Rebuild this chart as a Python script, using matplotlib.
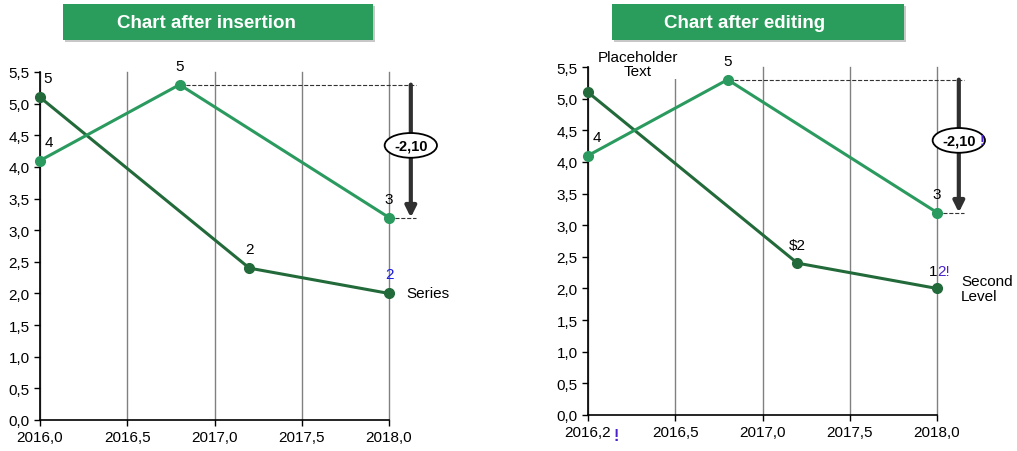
import matplotlib
matplotlib.use("Agg")
import matplotlib.pyplot as plt
from matplotlib.patches import Rectangle
from matplotlib.ticker import FuncFormatter, MultipleLocator

plt.rcParams['font.family'] = ['Liberation Sans', 'DejaVu Sans']
plt.rcParams['font.size'] = 10

# DATA
years_light = [2016.0, 2016.8, 2018.0]
vals_light = [4.1, 5.3, 3.2]
years_dark = [2016.0, 2017.2, 2018.0]
vals_dark = [5.1, 2.4, 2.0]

labels_light = ["4", "5", "3"]
labels_dark_ins = ["5", "2", "2"]
labels_dark_edit = ["Placeholder\nText", "$2", "12!"]

x_ticks = [2016.0, 2016.5, 2017.0, 2017.5, 2018.0]
x_ticklabels_edit = ["2016,2", "2016,5", "2017,0", "2017,5", "2018,0"]

diff_label = "-2,10"
series_name_ins = "Series"
series_name_edit = "Second\nLevel"
titles = ["Chart after insertion", "Chart after editing"]

# STYLE
W, H = 1017, 452
C_LIGHT = '#2a9a5e'
C_DARK = '#236a3a'
C_TITLE = '#2a9d5c'
C_PURPLE = '#4a22c8'
C_BLUE = '#1a1ae0'
ARROW_X = 2018.125
ELLIPSE_Y = 4.34


def comma(v, pos=None):
    return f"{v:.1f}".replace('.', ',')


def label(ax, x, y, s, dx, dy, **kw):
    kw.setdefault('ha', 'center')
    kw.setdefault('va', 'center')
    return ax.annotate(s, (x, y), xytext=(dx, dy), textcoords='offset pixels',
                       annotation_clip=False, zorder=6, **kw)


def base_panel(ax):
    ax.plot(years_dark, vals_dark, color=C_DARK, lw=2.2, marker='o', ms=7,
            zorder=4, clip_on=False)
    ax.plot(years_light, vals_light, color=C_LIGHT, lw=2.2, marker='o', ms=7,
            zorder=4, clip_on=False)

    ax.set_xticks(x_ticks)
    ax.yaxis.set_major_locator(MultipleLocator(0.5))
    ax.yaxis.set_major_formatter(FuncFormatter(comma))
    ax.xaxis.set_major_formatter(FuncFormatter(comma))
    ax.set_xlim(2016, 2018)
    ax.set_ylim(0, 5.5)
    ax.xaxis.grid(True, color='#808080', lw=1)
    for gl in ax.get_xgridlines():
        gl.set_clip_on(False)
    ax.set_axisbelow(True)
    for s in ['top', 'right']:
        ax.spines[s].set_visible(False)
    for s in ['left', 'bottom']:
        ax.spines[s].set_linewidth(1.2)
        ax.spines[s].set_zorder(3)
    ax.tick_params(direction='out', length=4, width=1, labelsize=11)

    # difference annotation
    ax.plot([years_light[1], ARROW_X + 0.03], [vals_light[1]] * 2, ls='--',
            lw=0.8, color='#333333', clip_on=False, zorder=3)
    ax.plot([years_light[2], ARROW_X + 0.03], [vals_light[2]] * 2, ls='--',
            lw=0.8, color='#333333', clip_on=False, zorder=3)
    ax.annotate("", xy=(ARROW_X, vals_light[2]), xytext=(ARROW_X, vals_light[1]),
                arrowprops=dict(arrowstyle='-|>', lw=3, color='#303030',
                                mutation_scale=16, shrinkA=0, shrinkB=0),
                annotation_clip=False, zorder=5)
    ax.text(ARROW_X, ELLIPSE_Y, diff_label, ha='center', va='center',
            weight='bold', fontsize=10.5, zorder=6, clip_on=False,
            bbox=dict(boxstyle='ellipse,pad=0.12', fc='white', ec='black', lw=1.3))

    for x, y, s in zip(years_light, vals_light, labels_light):
        dx = 9 if x == 2016.0 else 0
        label(ax, x, y, s, dx, 19, fontsize=11)


fig = plt.figure(figsize=(W / 100, H / 100), dpi=100)
ax1 = fig.add_axes([40 / W, 1 - 421 / H, 349 / W, 348 / H])
ax2 = fig.add_axes([588 / W, 1 - 416 / H, 349 / W, 348 / H])

# LEFT: after insertion
base_panel(ax1)
label(ax1, years_dark[0], vals_dark[0], labels_dark_ins[0], 8, 19, fontsize=11)
label(ax1, years_dark[1], vals_dark[1], labels_dark_ins[1], 0, 19, fontsize=11)
label(ax1, years_dark[2], vals_dark[2], labels_dark_ins[2], 0, 19, fontsize=11,
      color=C_BLUE)
label(ax1, years_dark[2], vals_dark[2], series_name_ins, 17, 0, fontsize=11,
      ha='left')

# RIGHT: after editing
base_panel(ax2)
ax2.set_xticklabels(x_ticklabels_edit)
label(ax2, years_dark[0], vals_dark[0], labels_dark_edit[0], 50, 28, fontsize=11,
      linespacing=1.0,
      bbox=dict(boxstyle='square,pad=0.05', fc='white', ec='none'))
label(ax2, years_dark[1], vals_dark[1], labels_dark_edit[1], 0, 18, fontsize=11)
label(ax2, years_dark[2], vals_dark[2], labels_dark_edit[2][0], 0, 17,
      fontsize=11, ha='right')
label(ax2, years_dark[2], vals_dark[2], labels_dark_edit[2][1:], 0, 17,
      fontsize=11, ha='left', color=C_PURPLE)
label(ax2, years_dark[2], vals_dark[2], series_name_edit, 24, 0, fontsize=11,
      ha='left', multialignment='left', linespacing=1.1)
label(ax2, ARROW_X, ELLIPSE_Y, "!", 23, 0, fontsize=11, weight='bold',
      color=C_PURPLE)
ax2.annotate("!", (2016.0, 0), xytext=(28, -21), textcoords='offset pixels',
             ha='center', va='center', fontsize=11.5, weight='bold',
             color=C_PURPLE, annotation_clip=False)

# title boxes
for (x0, x1), title, tx in zip([(63, 373), (612, 904)], titles, [206, 745]):
    fig.add_artist(Rectangle(((x0 + 2) / W, 1 - 43 / H), (x1 - x0) / W, 36 / H,
                             transform=fig.transFigure, fc='#c8c8c8', ec='none'))
    fig.add_artist(Rectangle((x0 / W, 1 - 41 / H), (x1 - x0) / W, 36 / H,
                             transform=fig.transFigure, fc=C_TITLE, ec='none'))
    fig.text(tx / W, 1 - 23 / H, title, ha='center', va='center',
             color='white', weight='bold', fontsize=13.5)

fig.savefig("out.png", dpi=100)
